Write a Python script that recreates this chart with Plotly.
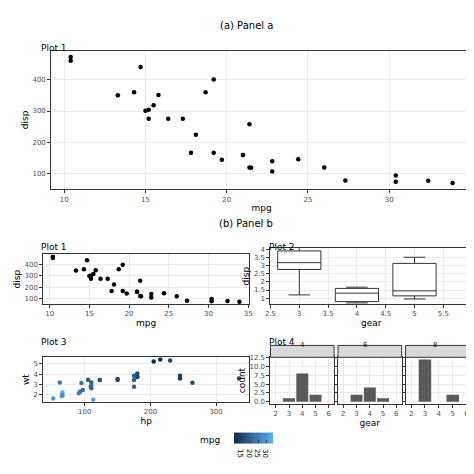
import plotly.graph_objects as go

mpg=[21,21,22.8,21.4,18.7,18.1,14.3,24.4,22.8,19.2,17.8,16.4,17.3,15.2,10.4,10.4,14.7,32.4,30.4,33.9,21.5,15.5,15.2,13.3,19.2,27.3,26,30.4,15.8,19.7,15,21.4]
disp=[160,160,108,258,360,225,360,146.7,140.8,167.6,167.6,275.8,275.8,275.8,472,460,440,78.7,75.7,71.1,120.1,318,304,350,400,79,120.3,95.1,351,145,301,121]
hp=[110,110,93,110,175,105,245,62,95,123,123,180,180,180,205,215,230,66,52,65,97,150,150,245,175,66,91,113,264,175,335,109]
wt=[2.62,2.875,2.32,3.215,3.44,3.46,3.57,3.19,3.15,3.44,3.44,4.07,3.73,3.78,5.25,5.424,5.345,2.2,1.615,1.835,2.465,3.52,3.435,3.84,3.845,1.935,2.14,1.513,3.17,2.77,3.57,2.78]
gear=[4,4,4,3,3,3,3,4,4,4,4,3,3,3,3,3,3,4,4,4,3,3,3,3,3,4,5,5,5,5,5,4]
cyl_levels=["4","6","8"]
gear_levels=[3,4,5]
counts={"4":[1,8,2],"6":[2,4,1],"8":[12,0,2]}

H=474
def py(p): return 1-p/H
def px(p): return p/H

fig=go.Figure()
ax=dict(showgrid=True,gridcolor="#ebebeb",zeroline=False,showline=True,linecolor="#333",mirror=True,
        ticks="outside",ticklen=3,tickcolor="#333",tickfont=dict(size=7,color="#4d4d4d"),
        title_font=dict(size=9),title_standoff=2)
lay={}
def setax(n,xd,yd,xr,yr,xt,yt,xdt=None,ydt=None,**kw):
    s="" if n==1 else str(n)
    lay["xaxis"+s]=dict(ax,domain=xd,range=xr,anchor="y"+s,title_text=xt,dtick=xdt)
    lay["yaxis"+s]=dict(ax,domain=yd,range=yr,anchor="x"+s,title_text=yt,dtick=ydt,**kw)

# Panel a
setax(1,[px(38),px(468)],[py(180),py(40)],[9.2,35.1],[52,492],"mpg","disp",5,100)
fig.add_trace(go.Scatter(x=mpg,y=disp,mode="markers",marker=dict(color="black",size=4.5),xaxis="x",yaxis="y"))
# Plot1 b
setax(2,[px(30),px(240)],[py(296),py(246)],[9.2,35.1],[52,492],"mpg","disp",5,100)
fig.add_trace(go.Scatter(x=mpg,y=disp,mode="markers",marker=dict(color="black",size=4.5),xaxis="x2",yaxis="y2"))
# Plot2
setax(3,[px(262),px(468)],[py(296),py(240)],[2.5,6.0],[0.65,4.05],"gear","disp",0.5,0.5)
for g in gear_levels:
    fig.add_trace(go.Box(x=[g]*sum(1 for v in gear if v==g),y=[d/100 for d,v in zip(disp,gear) if v==g],
        width=0.75,fillcolor="white",line=dict(color="#333",width=1),marker=dict(color="#333",size=3),
        boxpoints="outliers",xaxis="x3",yaxis="y3"))
# Plot3
setax(4,[px(30),px(240)],[py(395),py(350)],[37,350],[1.3,5.65],"hp","wt",100,1)
fig.add_trace(go.Scatter(x=hp,y=wt,mode="markers",xaxis="x4",yaxis="y4",
    marker=dict(color=mpg,size=4.5,colorscale=[[0,"#132B43"],[1,"#56B1F7"]],cmin=10.4,cmax=33.9,
    colorbar=dict(orientation="h",x=px(245),y=py(441),xanchor="center",yanchor="middle",len=60/474,
        thickness=11,tickvals=[15,20,25,30],
        tickfont=dict(size=7),outlinewidth=0,ticks="inside",ticklen=3))))
# Plot4 facets
fx=[(262,327),(331,396),(400,468)]
for i,(c,(a,b)) in enumerate(zip(cyl_levels,fx)):
    n=5+i
    setax(n,[px(a),px(b)],[py(397),py(350)],[1.6,6.4],[-0.6,12.6],"gear" if i==1 else "",
          "count" if i==0 else "",1,2.5,showticklabels=(i==0))
    fig.add_trace(go.Bar(x=gear_levels,y=counts[c],width=0.9,marker=dict(color="#595959",line_width=0),
        xaxis="x%d"%n,yaxis="y%d"%n))
    fig.add_shape(type="rect",xref="paper",yref="paper",x0=px(a),x1=px(b),y0=py(350),y1=py(338),
        fillcolor="#d9d9d9",line=dict(color="#333",width=1))
    fig.add_annotation(x=px((a+b)/2),y=py(344),xref="paper",yref="paper",text=c,showarrow=False,font=dict(size=7,color="#1a1a1a"))
lay["yaxis5"]["tickvals"]=[0,2.5,5,7.5,10,12.5]
lay["yaxis5"]["ticktext"]=["0.0","2.5","5.0","7.5","10.0","12.5"]

def ann(x,y,t,s=9,xa="left"):
    fig.add_annotation(x=px(x),y=py(y),xref="paper",yref="paper",text=t,showarrow=False,xanchor=xa,font=dict(size=s,color="black"))
ann(237,7,"(a) Panel a",10,"center")
ann(237,215,"(b) Panel b",10,"center")
ann(26,30,"Plot 1")
ann(26,239,"Plot 1")
ann(258,239,"Plot 2")
ann(26,342,"Plot 3")
ann(258,342,"Plot 4")
ann(212,441,"mpg",9,"right")

fig.update_layout(width=474,height=474,margin=dict(l=0,r=0,t=0,b=0),showlegend=False,
    plot_bgcolor="white",paper_bgcolor="white",font=dict(family="DejaVu Sans",color="black"),**lay)
fig.write_html("out.html")
